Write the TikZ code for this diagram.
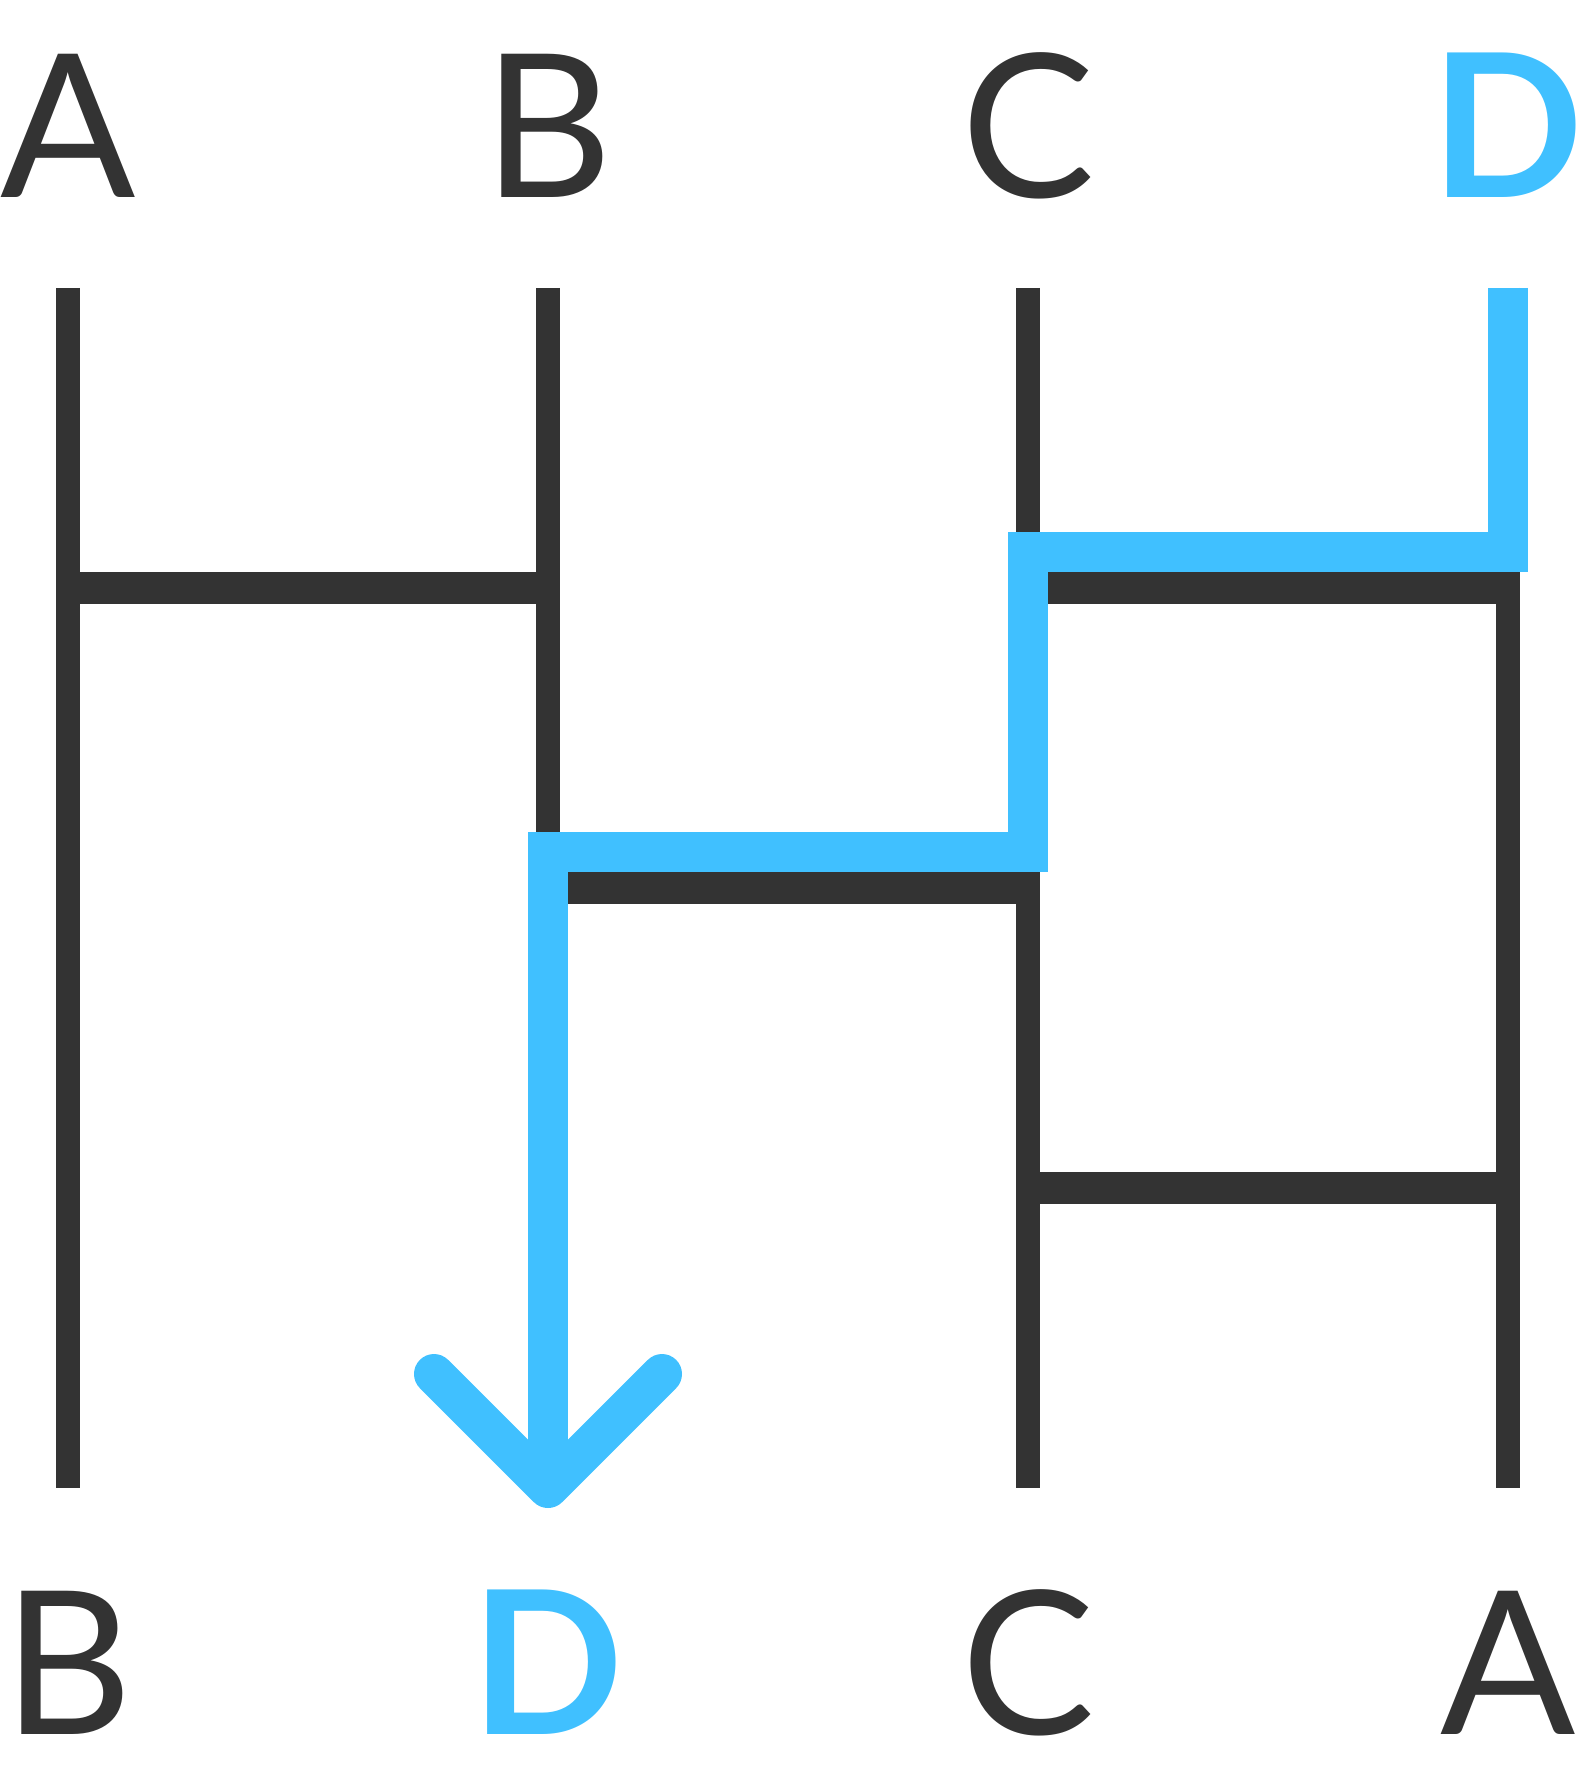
\documentclass[tikz,border=0pt]{standalone}
\usepackage{fontspec}
\setmainfont{Lato}
\definecolor{ink}{RGB}{51,51,51}
\definecolor{sky}{RGB}{64,192,255}
\begin{document}
\begin{tikzpicture}[x=1pt,y=-1pt,
  lbl/.style={inner sep=0pt, anchor=base, text=ink, font=\fontsize{200}{240}\selectfont},
  hilbl/.style={lbl, text=sky, font=\fontsize{200}{240}\selectfont\bfseries},
  rail/.style={draw=ink, line width=24pt},
  rungline/.style={draw=ink, line width=32pt},
  route/.style={draw=sky, line width=40pt, line join=miter},
  wing/.style={draw=sky, line width=40pt, line cap=round, line join=round}]
\useasboundingbox (0,0) rectangle (1583,1776);
% labels
\node[lbl] (tA) at (68,198) {A};
\node[lbl] (tB) at (548,198) {B};
\node[lbl] (tC) at (1028,198) {C};
\node[hilbl] (tD) at (1508,198) {D};
\node[lbl] (bB) at (68,1734) {B};
\node[hilbl] (bD) at (548,1734) {D};
\node[lbl] (bC) at (1028,1734) {C};
\node[lbl] (bA) at (1508,1734) {A};
% rail ends
\coordinate (a1) at (68,288);   \coordinate (a2) at (68,1488);
\coordinate (b1) at (548,288);  \coordinate (b2) at (548,1488);
\coordinate (c1) at (1028,288); \coordinate (c2) at (1028,1488);
\coordinate (d1) at (1508,288); \coordinate (d2) at (1508,1488);
% rung ends
\coordinate (r1l) at (68,588);   \coordinate (r1r) at (548,588);
\coordinate (r2l) at (1028,588); \coordinate (r2r) at (1508,588);
\coordinate (r3l) at (548,888);  \coordinate (r3r) at (1028,888);
\coordinate (r4l) at (1028,1188);\coordinate (r4r) at (1508,1188);
% rails
\draw[rail] (a1) -- (a2);
\draw[rail] (b1) -- (b2);
\draw[rail] (c1) -- (c2);
\draw[rail] (d1) -- (d2);
% rungs
\draw[rungline] (r1l) -- (r1r);
\draw[rungline] (r2l) -- (r2r);
\draw[rungline] (r3l) -- (r3r);
\draw[rungline] (r4l) -- (r4r);
% route corners
\coordinate (p1) at (1508,552);
\coordinate (p2) at (1028,552);
\coordinate (p3) at (1028,852);
\coordinate (p4) at (548,852);
\coordinate (tip) at (548,1488);
\coordinate (wl) at (434,1374);
\coordinate (wr) at (662,1374);
\draw[route] (d1) -- (p1) -- (p2) -- (p3) -- (p4) -- (tip);
\draw[wing] (wl) -- (tip) -- (wr);
\end{tikzpicture}
\end{document}
